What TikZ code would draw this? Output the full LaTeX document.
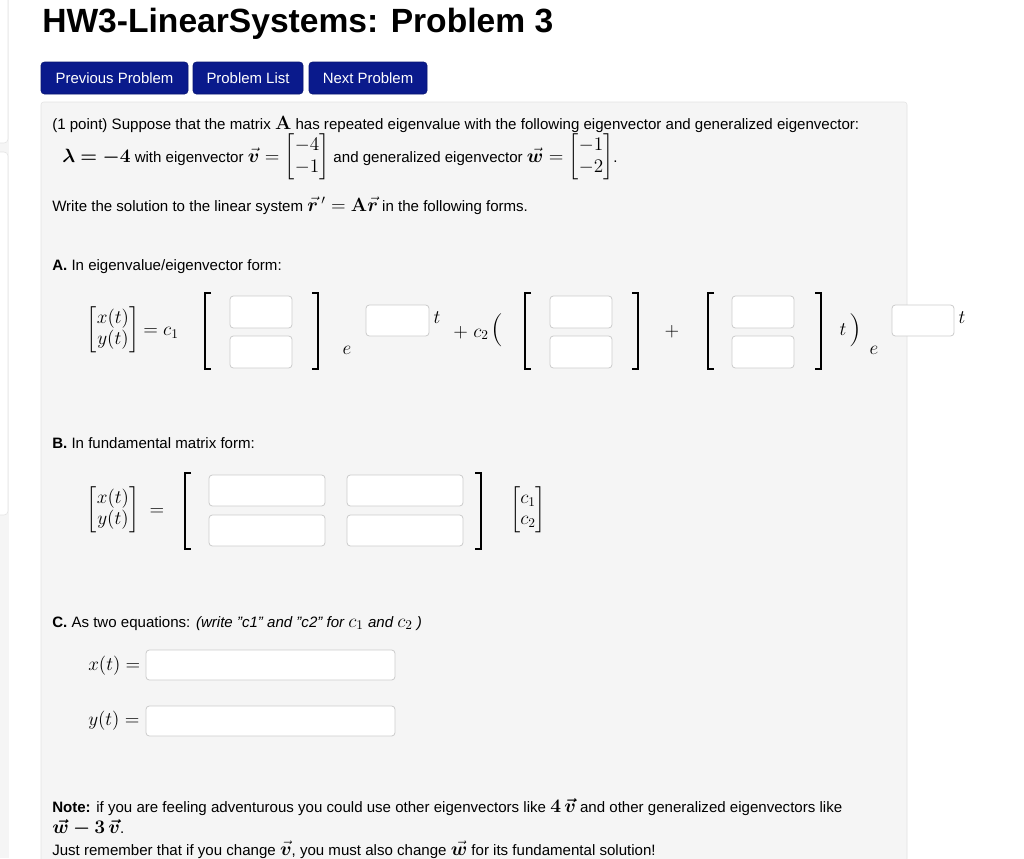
\documentclass[tikz,border=0pt]{standalone}
\usepackage{amsmath,bm}
\usepackage[no-math]{fontspec}
\setmainfont{Liberation Sans}
\definecolor{btn}{HTML}{0A1A8C}
\definecolor{panel}{HTML}{F5F5F5}
\definecolor{pborder}{HTML}{E3E3E3}
\definecolor{inb}{HTML}{CCCCCC}
\newcommand{\mm}[1]{{\fontsize{14.5pt}{16pt}\selectfont$#1$}}
\begin{document}
\begin{tikzpicture}[x=0.75pt,y=-0.75pt,
  txt/.style={anchor=base west,inner sep=0,font=\fontsize{11.3pt}{14pt}\selectfont},
  btnbox/.style={fill=btn,draw=btn!80!black,rounded corners=2.5pt,text=white,font=\fontsize{11.2pt}{13pt}\selectfont,inner sep=0},
  inbox/.style={fill=white,draw=inb,rounded corners=2.5pt,line width=0.6pt},
  brk/.style={line width=1.1pt},
  mth/.style={inner sep=0,font=\fontsize{14.5pt}{16pt}\selectfont}]
\useasboundingbox (0,0) rectangle (1024,858);
\fill[white] (0,0) rectangle (1024,858);
\fill[panel] (0,0) rectangle (9,858);
\draw[pborder,fill=white,rounded corners=3pt] (-5,-5) rectangle (8,143);
\draw[pborder,fill=white,rounded corners=3pt] (-5,152) rectangle (8,515);
% title
\node[anchor=base west,inner sep=0,font=\fontsize{25.2pt}{30pt}\selectfont\bfseries] (title) at (42,32) {HW3-LinearSystems: Problem 3};
% buttons
\node[btnbox,minimum width=147*0.75pt,minimum height=32*0.75pt] (prev) at (114.5,78) {Previous Problem};
\node[btnbox,minimum width=110*0.75pt,minimum height=32*0.75pt] (list) at (248,78) {Problem List};
\node[btnbox,minimum width=118*0.75pt,minimum height=32*0.75pt] (next) at (368,78) {Next Problem};
% panel
\draw[pborder,fill=panel,rounded corners=2pt] (41,102) rectangle (907,870);
\node[txt] (l1) at (52,129) {(1 point) Suppose that the matrix \mm{\mathbf{A}} has repeated eigenvalue with the following eigenvector and generalized eigenvector:};
\node[txt] (l2) at (62,162) {\mm{\bm{\lambda=-4}} with eigenvector \mm{\vec{\bm v}=\begin{bmatrix}-4\\-1\end{bmatrix}} and generalized eigenvector \mm{\vec{\bm w}=\begin{bmatrix}-1\\-2\end{bmatrix}}.};
\node[txt] (l3) at (52,211) {Write the solution to the linear system \mm{\vec{\bm r}\,'=\mathbf{A}\vec{\bm r}} in the following forms.};
\node[txt] (pa) at (52,270) {\textbf{A.} In eigenvalue/eigenvector form:};
% part A
\node[mth] (va) at (113,330) {$\begin{bmatrix}x(t)\\y(t)\end{bmatrix}$};
\node[mth,anchor=west] (c1) at (143,333) {$=c_1$};
\foreach \xa/\xb in {205/318, 525/638, 708/821}{
  \draw[brk] (\xa+6,293) -- (\xa,293) -- (\xa,369) -- (\xa+6,369);
  \draw[brk] (\xb-6,293) -- (\xb,293) -- (\xb,369) -- (\xb-6,369);
}
\foreach \xa in {230,550,732}{
  \draw[inbox] (\xa,296) rectangle (\xa+62,328);
  \draw[inbox] (\xa,336) rectangle (\xa+62,368);
}
\node[mth] (e1) at (347,350) {$e$};
\draw[inbox] (366,305) rectangle (429,336);
\node[mth] (t1) at (437,318) {$t$};
\node[mth] (p1) at (471,333) {$+\ c_2$};
\node[mth,font=\fontsize{36pt}{38pt}\selectfont] (lp) at (497,330) {$($};
\node[mth] (p2) at (672,332) {$+$};
\node[mth] (t2) at (843,330) {$t$};
\node[mth,font=\fontsize{36pt}{38pt}\selectfont] (rp) at (855,330) {$)$};
\node[mth] (e2) at (874,350) {$e$};
\draw[inbox] (892,305) rectangle (954,336);
\node[mth] (t3) at (962,318) {$t$};
% part B
\node[txt] (pb) at (52,448) {\textbf{B.} In fundamental matrix form:};
\node[mth] (vb) at (113,510) {$\begin{bmatrix}x(t)\\y(t)\end{bmatrix}$};
\node[mth] (eqb) at (157,512) {$=$};
\draw[brk] (191,473) -- (185,473) -- (185,549) -- (191,549);
\draw[brk] (475,473) -- (481,473) -- (481,549) -- (475,549);
\foreach \xa in {209,347}{
  \draw[inbox] (\xa,475) rectangle (\xa+116,506);
  \draw[inbox] (\xa,515) rectangle (\xa+116,546);
}
\node[mth] (vc) at (528,510) {$\begin{bmatrix}c_1\\c_2\end{bmatrix}$};
% part C
\node[txt] (pc) at (52,627) {\textbf{C.} As two equations: \textit{(write "c1" and "c2" for \mm{c_1} and \mm{c_2} )}};
\node[mth,anchor=base west] (xe) at (88,670) {$x(t)=$};
\draw[inbox] (146,650) rectangle (395,680);
\node[mth,anchor=base west] (ye) at (88,725) {$y(t)=$};
\draw[inbox] (146,706) rectangle (395,736);
% note
\node[txt] (n1) at (52,812) {\textbf{Note:} if you are feeling adventurous you could use other eigenvectors like \mm{\bm{4\,\vec v}} and other generalized eigenvectors like};
\node[txt] (n2) at (52,833) {\mm{\bm{\vec w-3\,\vec v}}.};
\node[txt] (n3) at (52,855) {Just remember that if you change \mm{\vec{\bm v}}, you must also change \mm{\vec{\bm w}} for its fundamental solution!};
\end{tikzpicture}
\end{document}
